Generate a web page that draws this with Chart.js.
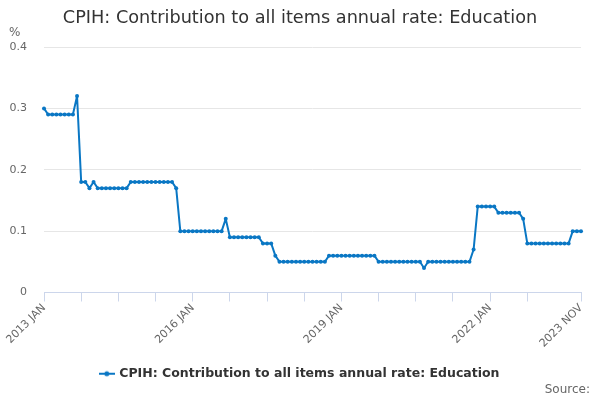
<!DOCTYPE html>
<html>
<head>
<meta charset="utf-8">
<script src="https://cdn.jsdelivr.net/npm/chart.js@4/dist/chart.umd.min.js"></script>
<style>
  html, body { margin: 0; padding: 0; background: #fff; }
  #wrap { width: 600px; height: 400px; }
</style>
</head>
<body>
<div id="wrap"><canvas id="cpihChart"></canvas></div>
<script>
// monthly series, 2013 JAN .. 2023 NOV
const years = ["2013","2014","2015","2016","2017","2018","2019","2020","2021","2022","2023"];
const months = ["JAN","FEB","MAR","APR","MAY","JUN","JUL","AUG","SEP","OCT","NOV","DEC"];
const shownLabels = ["2013 JAN","2016 JAN","2019 JAN","2022 JAN","2023 NOV"];
const yTicks = [0, 0.1, 0.2, 0.3, 0.4];
const education = [
  0.30,0.29,0.29,0.29,0.29,0.29,0.29,0.29,0.32,0.18,0.18,0.17, // 2013
  0.18,0.17,0.17,0.17,0.17,0.17,0.17,0.17,0.17,0.18,0.18,0.18, // 2014
  0.18,0.18,0.18,0.18,0.18,0.18,0.18,0.18,0.17,0.10,0.10,0.10, // 2015
  0.10,0.10,0.10,0.10,0.10,0.10,0.10,0.10,0.12,0.09,0.09,0.09, // 2016
  0.09,0.09,0.09,0.09,0.09,0.08,0.08,0.08,0.06,0.05,0.05,0.05, // 2017
  0.05,0.05,0.05,0.05,0.05,0.05,0.05,0.05,0.05,0.06,0.06,0.06, // 2018
  0.06,0.06,0.06,0.06,0.06,0.06,0.06,0.06,0.06,0.05,0.05,0.05, // 2019
  0.05,0.05,0.05,0.05,0.05,0.05,0.05,0.05,0.04,0.05,0.05,0.05, // 2020
  0.05,0.05,0.05,0.05,0.05,0.05,0.05,0.05,0.07,0.14,0.14,0.14, // 2021
  0.14,0.14,0.13,0.13,0.13,0.13,0.13,0.13,0.12,0.08,0.08,0.08, // 2022
  0.08,0.08,0.08,0.08,0.08,0.08,0.08,0.08,0.10,0.10,0.10       // 2023
];
const chartTitle = "CPIH: Contribution to all items annual rate: Education";

const labels = [];
years.forEach(y => months.forEach(m => labels.push(y + " " + m)));
labels.length = education.length;

const BLUE = "#0a77c4";
const FONT = "'DejaVu Sans', sans-serif";
const lastIdx = education.length - 1;

// legend symbol: short line with a dot
const sym = document.createElement("canvas");
sym.width = 16; sym.height = 8;
(function () {
  const c = sym.getContext("2d");
  c.strokeStyle = BLUE; c.lineWidth = 2;
  c.beginPath(); c.moveTo(0, 4); c.lineTo(16, 4); c.stroke();
  c.fillStyle = BLUE;
  c.beginPath(); c.arc(8, 4, 2.5, 0, Math.PI * 2); c.fill();
})();

// title centred on the page, "%" above the y axis and the source note
const extraText = {
  id: "extraText",
  afterDraw(chart) {
    const c = chart.ctx;
    c.save();
    c.textBaseline = "middle";
    c.fillStyle = "#333";
    c.font = "17.7px " + FONT;
    c.textAlign = "center";
    c.fillText(chartTitle, 300, 18);
    c.fillStyle = "#666";
    c.font = "12px " + FONT;
    c.textAlign = "left";
    c.fillText("%", 9, chart.chartArea.top - 14);
    c.textAlign = "right";
    c.fillText("Source:", 590, 390);
    c.restore();
  }
};

new Chart(document.getElementById("cpihChart"), {
  type: "line",
  data: {
    labels: labels,
    datasets: [{
      label: chartTitle,
      data: education,
      borderColor: BLUE,
      backgroundColor: BLUE,
      borderWidth: 2,
      borderJoinStyle: "round",
      borderCapStyle: "round",
      pointRadius: 2,
      pointBorderWidth: 0,
      pointBackgroundColor: BLUE,
      tension: 0,
      fill: false
    }]
  },
  plugins: [extraText],
  options: {
    responsive: true,
    maintainAspectRatio: false,
    animation: false,
    layout: { padding: { left: 0, right: 0, top: 47, bottom: 10 } },
    plugins: {
      title: { display: false },
      legend: {
        position: "bottom",
        labels: {
          usePointStyle: true,
          pointStyle: sym,
          color: "#333",
          font: { family: FONT, size: 12.5, weight: "bold" },
          padding: 8
        }
      },
      tooltip: { enabled: false }
    },
    scales: {
      x: {
        offset: false,
        border: { color: "#ccd6eb", width: 1 },
        afterFit(scale) { scale.height = 67; },
        grid: {
          drawOnChartArea: false,
          tickLength: 9,
          tickColor: ctx => ((ctx.index % 9 === 0 && ctx.index < lastIdx - 6) || ctx.index === lastIdx) ? "#ccd6eb" : "rgba(0,0,0,0)"
        },
        ticks: {
          autoSkip: false,
          maxRotation: 45,
          minRotation: 45,
          padding: 0,
          color: "#666",
          font: { family: FONT, size: 11 },
          callback: function (v) {
            const l = this.getLabelForValue(v);
            return shownLabels.includes(l) ? l : "";
          }
        }
      },
      y: {
        min: yTicks[0],
        max: yTicks[yTicks.length - 1],
        border: { display: false },
        grid: { color: "#e6e6e6", drawTicks: false },
        afterFit(scale) { scale.width = 44; },
        afterBuildTicks(scale) { scale.ticks = yTicks.map(v => ({ value: v })); },
        ticks: {
          padding: 17,
          color: "#666",
          font: { family: FONT, size: 11 },
          callback: v => String(v)
        }
      },
      // empty right-hand axis that only keeps the right margin
      yRight: {
        position: "right",
        display: true,
        min: 0,
        max: 0.4,
        border: { display: false },
        grid: { display: false },
        ticks: { display: false },
        afterFit(scale) { scale.width = 19; }
      }
    }
  }
});
</script>
</body>
</html>
